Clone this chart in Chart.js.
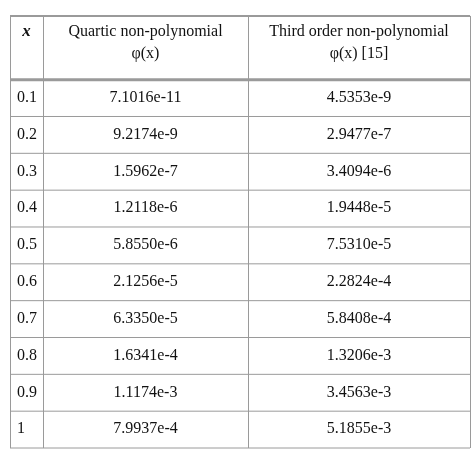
<!DOCTYPE html>
<html><head><meta charset="utf-8">
<script src="https://cdn.jsdelivr.net/npm/chart.js@4/dist/chart.umd.min.js"></script>
<style>html,body{margin:0;background:#fff}#c{width:474px;height:450px}</style>
</head><body><div id="c"><canvas id="cv"></canvas></div>
<script>
// 表のデータ.
const xValues = ['0.1','0.2','0.3','0.4','0.5','0.6','0.7','0.8','0.9','1'];
const quartic = ['7.1016e-11','9.2174e-9','1.5962e-7','1.2118e-6','5.8550e-6','2.1256e-5','6.3350e-5','1.6341e-4','1.1174e-3','7.9937e-4'];
const thirdOrder = ['4.5353e-9','2.9477e-7','3.4094e-6','1.9448e-5','7.5310e-5','2.2824e-4','5.8408e-4','1.3206e-3','3.4563e-3','5.1855e-3'];
const headers = [['x'], ['Quartic non-polynomial','φ(x)'], ['Third order non-polynomial','φ(x) [15]']];
const colEdges = [10, 43, 248, 470];
const headRows = 1.73;

const tablePlugin = {
  id: 'table',
  afterDraw(chart) {
    const ctx = chart.ctx, xs = chart.scales.x, ys = chart.scales.y;
    const X = v => xs.getPixelForValue(v), Y = v => ys.getPixelForValue(v);
    const top = Y(-headRows), bottom = Y(xValues.length);
    ctx.save();
    ctx.strokeStyle = '#9a9a9a';
    // 横線.
    ctx.lineWidth = 2;
    ctx.beginPath(); ctx.moveTo(X(colEdges[0]), top); ctx.lineTo(X(colEdges[3]), top); ctx.stroke();
    ctx.lineWidth = 3;
    ctx.beginPath(); ctx.moveTo(X(colEdges[0]), Y(0)); ctx.lineTo(X(colEdges[3]), Y(0)); ctx.stroke();
    ctx.lineWidth = 1;
    for (let i = 1; i <= xValues.length; i++) {
      ctx.beginPath(); ctx.moveTo(X(colEdges[0]), Y(i)); ctx.lineTo(X(colEdges[3]), Y(i)); ctx.stroke();
    }
    // 縦線.
    colEdges.forEach(function(e) {
      ctx.beginPath(); ctx.moveTo(X(e) + 0.5, top); ctx.lineTo(X(e) + 0.5, bottom); ctx.stroke();
    });
    ctx.fillStyle = '#111';
    ctx.textBaseline = 'middle';
    // ヘッダ.
    headers.forEach(function(lines, c) {
      const cx = (X(colEdges[c]) + X(colEdges[c + 1])) / 2;
      ctx.textAlign = 'center';
      lines.forEach(function(t, k) {
        ctx.font = c === 0 ? 'italic bold 17px "Liberation Serif"' : '16px "Liberation Serif"';
        ctx.fillText(t, cx, top + 16 + k * 22);
      });
    });
    ctx.font = '16px "Liberation Serif"';
    [xValues, quartic, thirdOrder].forEach(function(col, c) {
      const cx = c === 0 ? X(colEdges[0]) + 7 : (X(colEdges[c]) + X(colEdges[c + 1])) / 2;
      ctx.textAlign = c === 0 ? 'left' : 'center';
      col.forEach(function(t, i) {
        ctx.fillText(t, cx, Y(i) + 18);
      });
    });
    ctx.restore();
  }
};

new Chart(document.getElementById('cv'), {
  type: 'scatter',
  data: { datasets: [{ data: [], showLine: false }] },
  options: {
    responsive: true, maintainAspectRatio: false, animation: false,
    layout: { padding: 0 },
    plugins: { legend: { display: false }, tooltip: { enabled: false } },
    scales: {
      x: { type: 'linear', display: false, min: 0, max: 474 },
      y: { type: 'linear', display: false, reverse: true, min: -headRows - 16 / 37, max: xValues.length + 2 / 37 }
    }
  },
  plugins: [tablePlugin]
});
</script></body></html>
